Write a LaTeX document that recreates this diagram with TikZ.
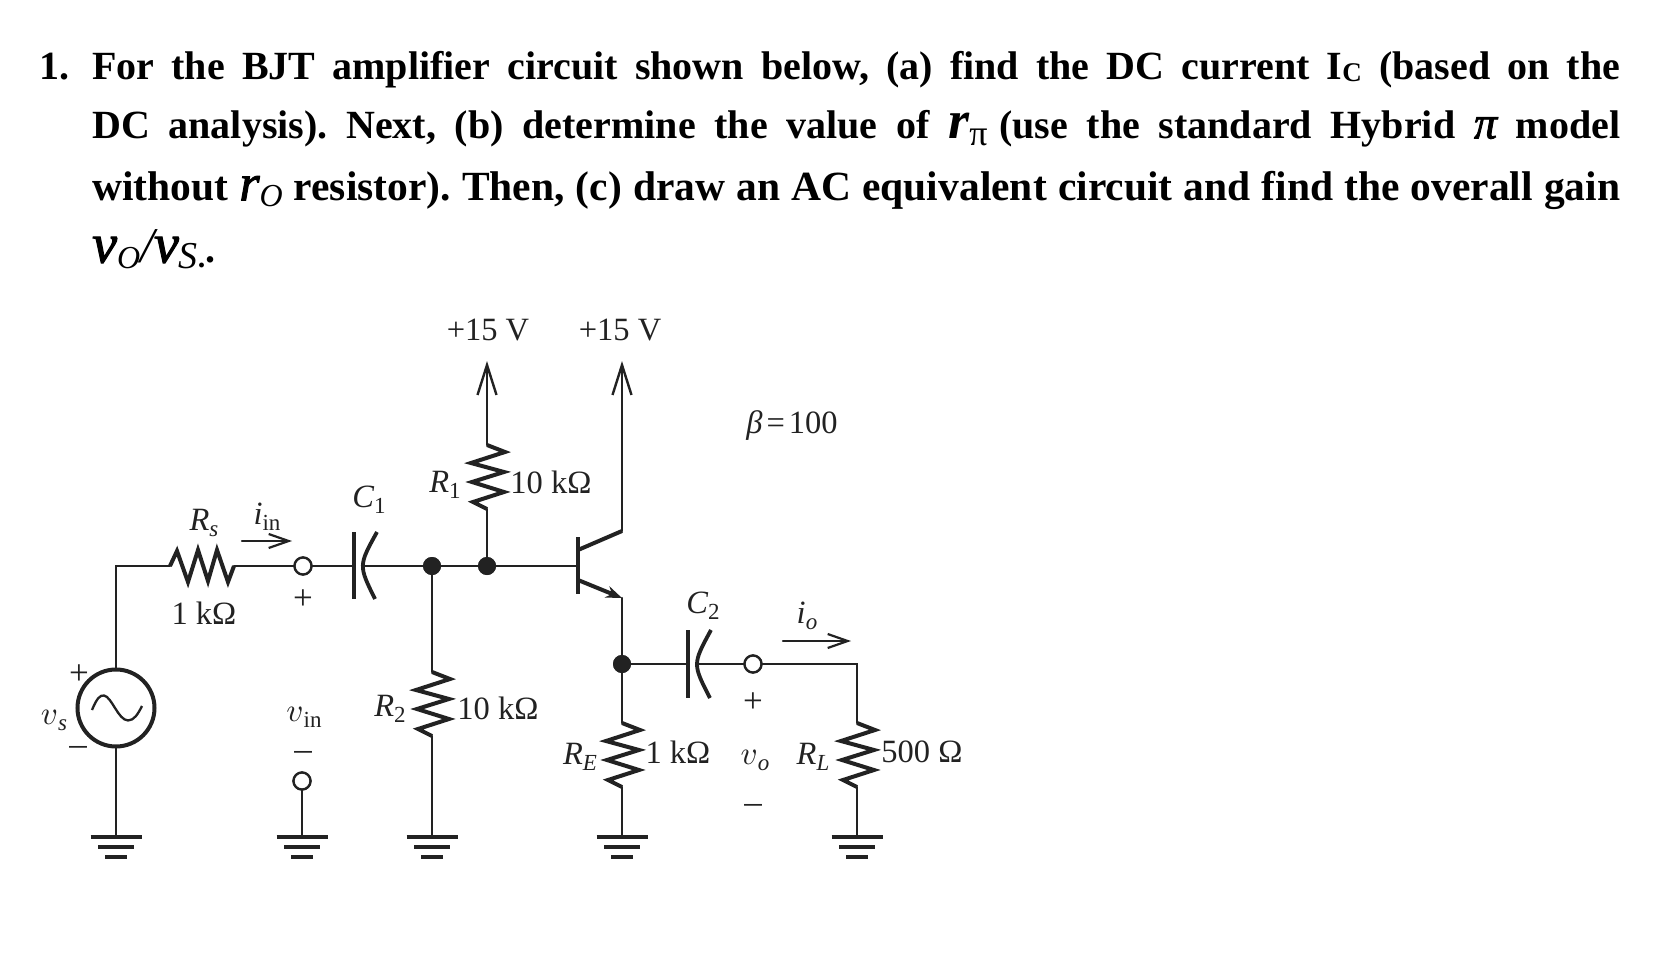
\documentclass[tikz,border=0pt]{standalone}
\usepackage{fontspec}
\setmainfont{Liberation Serif}
\newfontface\vface[FakeBold=1.8]{Liberation Serif Italic}
\usetikzlibrary{arrows.meta,calc}
\definecolor{ink}{HTML}{222222}
\newcommand\sbx[2][23]{\raisebox{-6pt}{\fontsize{#1}{#1}\selectfont #2}}
\newcommand\vlett{\scalebox{3.3}{\normalsize$v$}}
\newcommand\vresistor[1]{\draw[zig] (#1) -- ([shift={(18,7)}]#1) -- ([shift={(-16,18)}]#1) -- ([shift={(17,27)}]#1) -- ([shift={(-15,37)}]#1) -- ([shift={(17,47)}]#1) -- ([shift={(-14,57)}]#1) -- ([shift={(0,64)}]#1);}
\newcommand\grnd[1]{\draw[gbar] ([shift={(-25.5,0)}]#1) -- ([shift={(25.5,0)}]#1);
 \draw[gbar] ([shift={(-18,10)}]#1) -- ([shift={(18,10)}]#1);
 \draw[gbar] ([shift={(-11,20)}]#1) -- ([shift={(11,20)}]#1);}
\tikzset{
 wire/.style={draw=ink,line width=2.3pt,line cap=round},
 zig/.style={draw=ink,line width=4pt,miter limit=6},
 gbar/.style={draw=ink,line width=3.6pt},
 plate/.style={draw=ink,line width=3.8pt},
 lab/.style={inner sep=0pt,text=ink,font=\fontsize{32.5}{32.5}\selectfont},
 sign/.style={inner sep=0pt,text=ink,font=\fontsize{35}{35}\selectfont},
 txt/.style={inner sep=0pt,anchor=base west,text=black,font=\fontsize{40}{40}\selectfont\bfseries\frenchspacing},
 open/.style={circle,draw=ink,line width=2.3pt,fill=white,minimum size=17pt,inner sep=0pt},
 dotn/.style={circle,fill=ink,minimum size=18pt,inner sep=0pt},
 supply/.style={wire,-{Straight Barb[length=30pt,width=19pt,line width=2.4pt]}},
 curarrow/.style={wire,-{Straight Barb[length=20pt,width=14pt,line width=2.2pt]}},
}
\begin{document}
\begin{tikzpicture}[x=1pt,y=-1pt]
\useasboundingbox[fill=white] (0,0) rectangle (1664,976);
% problem text
\node[txt] (num) at (39,80) {1.};
\node[txt] (l1) at (92,80) {\hbox to 1528pt{For the BJT amplifier circuit shown below, (a) find the DC current I\raisebox{-2pt}{\fontsize{27}{27}\selectfont C} (based on the}};
\node[txt] (l2) at (92,138.5) {\hbox to 1528pt{DC analysis). Next, (b) determine the value of {\itshape\fontsize{54}{54}\selectfont r}\raisebox{-7pt}{\fontsize{36}{36}\selectfont\mdseries π}\hspace{-7pt} (use the standard Hybrid {\vface\fontsize{46}{46}\selectfont π} model}};
\node[txt] (l3) at (92,200.5) {\fontsize{41.5}{41.5}\selectfont\hbox to 1528pt{without {\vface\fontsize{52}{52}\selectfont r}\raisebox{-6pt}{\mdseries\itshape\fontsize{32}{32}\selectfont O} resistor). Then, (c) draw an AC equivalent circuit and find the overall gain}};
\node[txt] (l4) at (92,262.5) {{\vface\fontsize{56}{56}\selectfont v}\raisebox{-6pt}{\mdseries\itshape\fontsize{32}{32}\selectfont O}{\mdseries\itshape\fontsize{50}{50}\selectfont /}{\vface\fontsize{56}{56}\selectfont v}\raisebox{-6pt}{\mdseries\itshape\fontsize{38}{38}\selectfont S}\raisebox{-5pt}{\fontsize{30}{30}\selectfont.}.};
% key points
\coordinate (sTop) at (116,566);
\coordinate (RsL) at (170,566);
\coordinate (RsR) at (234,566);
\node[open] (inP) at (303,566) {};
\coordinate (C1a) at (354,566);
\coordinate (C1b) at (363,566);
\node[dotn] (j1) at (432,566) {};
\node[dotn] (j2) at (487,566) {};
\coordinate (base) at (578,566);
\node[circle,draw=ink,line width=4pt,minimum size=77pt,inner sep=0pt] (src) at (116,708) {};
\node[open] (inN) at (302,781) {};
\coordinate (g1) at (116,837);
\coordinate (g2) at (302,837);
\coordinate (g3) at (432,837);
\coordinate (g4) at (622,837);
\coordinate (g5) at (857,837);
\coordinate (R2t) at (432,672);
\coordinate (R2b) at (432,736);
\coordinate (R1t) at (487,445);
\coordinate (R1b) at (487,509);
\coordinate (vcc1) at (487,361);
\coordinate (vcc2) at (622,361);
\coordinate (bT) at (578,537);
\coordinate (bB) at (578,594);
\coordinate (cA) at (578,550);
\coordinate (cB) at (622,531);
\coordinate (eA) at (578,580);
\coordinate (eB) at (622,598);
\node[dotn] (j3) at (622,664) {};
\coordinate (C2a) at (688,664);
\coordinate (C2b) at (697,664);
\node[open] (outP) at (753,664) {};
\coordinate (corner) at (857,664);
\coordinate (REt) at (622,723);
\coordinate (REb) at (622,787);
\coordinate (RLt) at (857,723);
\coordinate (RLb) at (857,787);
\coordinate (iinA) at (242,541);
\coordinate (iinB) at (292,541);
\coordinate (ioA) at (783,641);
\coordinate (ioB) at (851,641);
% wires
\draw[wire] (src) -- (sTop) -- (RsL);
\draw[wire] (RsR) -- (inP);
\draw[wire] (inP) -- (C1a);
\draw[wire] (C1b) -- (j1) -- (j2) -- (base);
\draw[wire] (src) -- (g1);
\draw[wire] (inN) -- (g2);
\draw[wire] (j1) -- (R2t);
\draw[wire] (R2b) -- (g3);
\draw[wire] (j2) -- (R1b);
\draw[supply] (R1t) -- (vcc1);
\draw[supply] (cB) -- (vcc2);
\draw[wire] (eB) -- (j3);
\draw[wire] (j3) -- (C2a);
\draw[wire] (C2b) -- (outP);
\draw[wire] (outP) -- (corner) -- (RLt);
\draw[wire] (j3) -- (REt);
\draw[wire] (REb) -- (g4);
\draw[wire] (RLb) -- (g5);
\draw[curarrow] (iinA) -- (iinB);
\draw[curarrow] (ioA) -- (ioB);
% redraw terminals on top
\node[open] at (inP) {};
\node[open] at (inN) {};
\node[open] at (outP) {};
\node[dotn] at (j1) {};
\node[dotn] at (j2) {};
\node[dotn] at (j3) {};
% resistors
\draw[zig] (RsL) -- (177,551) -- (188,582) -- (198,550) -- (208,581) -- (217,550) -- (228,582) -- (RsR);
\vresistor{R2t}\vresistor{R1t}\vresistor{REt}\vresistor{RLt}
% grounds
\grnd{g1}\grnd{g2}\grnd{g3}\grnd{g4}\grnd{g5}
% capacitors
\draw[plate] (354,532) -- (354,599);
\draw[plate] (377,532) .. controls (358.5,565.5) .. (375,599);
\draw[plate] (688,630) -- (688,698);
\draw[plate] (711,630) .. controls (692.5,664) .. (710,698);
% source wave
\draw[draw=ink,line width=2.3pt] (92,710) .. controls (97,698) and (100,695) .. (104,695.5) .. controls (112,697) and (118,720) .. (128,720.5) .. controls (134,720.5) and (138,714) .. (142,706);
% transistor
\draw[plate] (bT) -- (bB);
\draw[draw=ink,line width=4pt] (cA) -- (cB);
\draw[draw=ink,line width=4pt,-{Stealth[length=16pt,width=12pt]}] (eA) -- (eB);
% labels
\node[lab] (v1) at (488,330) {+15 V};
\node[lab] (v2) at (620,330) {+15 V};
\node[lab,anchor=base] (beta) at (792,433) {{\itshape β}\hspace{4pt}=\hspace{4pt}100};
\node[lab] (lR1) at (445,485) {{\itshape R}\sbx{1}};
\node[lab] (vR1) at (551,482) {10 kΩ};
\node[lab] (lC1) at (369,500) {{\itshape C}\sbx{1}};
\node[lab] (lRs) at (204,523) {{\itshape R}\sbx{\itshape s}};
\node[lab] (liin) at (267,517) {{\itshape i}\sbx{in}};
\node[lab] (vRs) at (204,613) {1 kΩ};
\node[sign] (pin) at (303,600) {+};
\node[lab] (lC2) at (703,606) {{\itshape C}\sbx{2}};
\node[lab] (lio) at (807,616) {{\itshape i}\sbx{\itshape o}};
\node[sign] (ps) at (79,675) {+};
\node[sign] (ms) at (78,751) {–};
\node[lab] (lvs) at (54,721) {\vlett\sbx{\itshape s}};
\node[lab] (lvin) at (304,717) {\vlett\sbx{in}};
\node[sign] (min) at (303,756) {–};
\node[lab] (lR2) at (390,709) {{\itshape R}\sbx{2}};
\node[lab] (vR2) at (498,708) {10 kΩ};
\node[sign] (pout) at (753,703) {+};
\node[lab] (lRE) at (580,757) {{\itshape R}\sbx{\itshape E}};
\node[lab] (vRE) at (678,752) {1 kΩ};
\node[lab] (lvo) at (755,761) {\vlett\sbx{\itshape o}};
\node[lab] (lRL) at (813,757) {{\itshape R}\sbx{\itshape L}};
\node[lab] (vRL) at (922,752) {500 Ω};
\node[sign] (mout) at (753,809) {–};
\end{tikzpicture}
\end{document}
